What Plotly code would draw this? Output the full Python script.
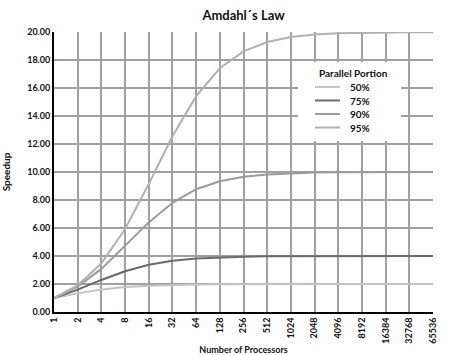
import plotly.graph_objects as go

processors = ["1", "2", "4", "8", "16", "32", "64", "128", "256", "512", "1024",
              "2048", "4096", "8192", "16384", "32768", "65536"]
series_names = ["50%", "75%", "90%", "95%"]
s50 = [1.00, 1.33, 1.60, 1.78, 1.88, 1.94, 1.97, 1.98, 1.99, 2.00, 2.00, 2.00, 2.00, 2.00, 2.00, 2.00, 2.00]
s75 = [1.00, 1.60, 2.29, 2.91, 3.37, 3.66, 3.82, 3.91, 3.95, 3.98, 3.99, 3.99, 4.00, 4.00, 4.00, 4.00, 4.00]
s90 = [1.00, 1.82, 3.08, 4.71, 6.40, 7.80, 8.77, 9.34, 9.66, 9.83, 9.91, 9.96, 9.98, 9.99, 9.99, 10.00, 10.00]
s95 = [1.00, 1.90, 3.48, 5.93, 9.14, 12.55, 15.42, 17.41, 18.62, 19.28, 19.64, 19.82, 19.91, 19.95, 19.98, 19.99, 19.99]
colors = ["#c4c4c4", "#6a6a6a", "#9a9a9a", "#b0b0b0"]
yticks = [0, 2, 4, 6, 8, 10, 12, 14, 16, 18, 20]

FONT = "Lato"
W, H = 474, 355
ML, MR, MT, MB = 54, 41, 32, 43
PW, PH = W - ML - MR, H - MT - MB


def px(x):
    return (x - ML) / PW


def py(y):
    return (H - MB - y) / PH


xs = list(range(len(processors)))

fig = go.Figure()
for name, vals, c in zip(series_names, [s50, s75, s90, s95], colors):
    fig.add_trace(go.Scatter(x=xs, y=vals, mode="lines", name=name,
                             line=dict(color=c, width=2), showlegend=False))

# custom compact legend box
shapes = [dict(type="rect", xref="paper", yref="paper",
               x0=px(298), x1=px(401), y0=py(141), y1=py(62),
               fillcolor="white", line=dict(width=0), layer="above")]
annotations = [dict(text="<b>Parallel Portion</b>", xref="paper", yref="paper",
                    x=px(353), y=py(73), xanchor="center", yanchor="middle",
                    showarrow=False, font=dict(size=10, family=FONT, color="#111"))]
for i, (name, c) in enumerate(zip(series_names, colors)):
    yy = 87 + i * 13.5
    shapes.append(dict(type="line", xref="paper", yref="paper",
                       x0=px(315), x1=px(340), y0=py(yy), y1=py(yy),
                       line=dict(color=c, width=2), layer="above"))
    annotations.append(dict(text="<b>%s</b>" % name, xref="paper", yref="paper",
                            x=px(348), y=py(yy), xanchor="left", yanchor="middle",
                            showarrow=False, font=dict(size=10, family=FONT, color="#111")))

fig.update_layout(
    width=W, height=H,
    margin=dict(l=ML, r=MR, t=MT, b=MB),
    paper_bgcolor="white", plot_bgcolor="white",
    font=dict(family=FONT, color="#111", size=9),
    title=dict(text="<b>Amdahl´s Law</b>", x=0.5, xref="paper", xanchor="center",
               y=1 - 15 / H, yanchor="middle", font=dict(size=13, family=FONT, color="#111")),
    showlegend=False,
    shapes=shapes,
    annotations=annotations,
)
fig.update_xaxes(
    range=[0, len(processors) - 1],
    tickvals=xs, ticktext=["<b>%s</b>" % p for p in processors],
    tickangle=-90, tickfont=dict(size=9, family=FONT),
    showgrid=True, gridcolor="#a0a0a0", gridwidth=2,
    showline=True, linecolor="black", linewidth=2,
    zeroline=False, ticks="", automargin=False,
    title=dict(text="<b>Number of Processors</b>", font=dict(size=9, family=FONT), standoff=4),
)
fig.update_yaxes(
    range=[0, 20],
    tickvals=yticks,
    ticktext=["<b>%.2f</b>" % v for v in yticks],
    tickfont=dict(size=9, family=FONT),
    showgrid=True, gridcolor="#a0a0a0", gridwidth=2,
    showline=True, linecolor="black", linewidth=2,
    zeroline=False, ticks="", automargin=False,
    title=dict(text="<b>Speedup</b>", font=dict(size=10, family=FONT), standoff=16),
)

fig.write_html("out.html", config={"displayModeBar": False},
               post_script="document.body.style.margin='0px';")
